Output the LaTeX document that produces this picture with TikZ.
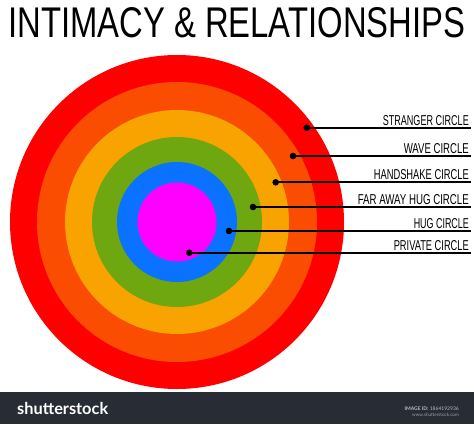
\documentclass[tikz,border=0pt]{standalone}
\usepackage{fontspec}
\usepackage{graphicx}
\setmainfont{Liberation Sans}
\newfontfamily\titlefont[FakeStretch=0.78]{Liberation Sans}
\newfontfamily\lblfont[FakeStretch=0.65]{Liberation Sans}
\newfontfamily\barfont{Lato}
\definecolor{cred}{HTML}{FE0000}
\definecolor{corange}{HTML}{FA4D02}
\definecolor{camber}{HTML}{F8A300}
\definecolor{cgreen}{HTML}{6EA70F}
\definecolor{cblue}{HTML}{0A72FE}
\definecolor{cmagenta}{HTML}{FF00FF}
\definecolor{cbar}{HTML}{282C34}
\definecolor{cbartext}{HTML}{B8BCC4}
\tikzset{
  ring/.style={fill=#1},
  dot/.style={circle,fill=black,inner sep=0pt,minimum size=6.6pt},
  leader/.style={draw=black,line width=1.8pt},
  lbl/.style={inner sep=0pt,anchor=base east},
}
\newcommand{\lbltext}[2]{\resizebox{#1pt}{10pt}{\lblfont #2}}
\begin{document}
\begin{tikzpicture}[x=1pt,y=-1pt]
\useasboundingbox (0,0) rectangle (474,424);
\fill[white] (0,0) rectangle (474,424);
% title
\node[inner sep=0pt,anchor=base west] (title) at (8,37)
  {\resizebox{457pt}{30pt}{\titlefont INTIMACY \& RELATIONSHIPS}};
% concentric circles
\coordinate (c) at (177,222);
\fill[ring=cred] (c) circle[radius=167pt];
\fill[ring=corange] (c) circle[radius=140pt];
\fill[ring=camber] (c) circle[radius=112pt];
\fill[ring=cgreen] (c) circle[radius=85pt];
\fill[ring=cblue] (c) circle[radius=60pt];
\fill[ring=cmagenta] (c) circle[radius=39.5pt];
% dots
\node[dot] (d1) at (306.7,127.7) {};
\node[dot] (d2) at (293,156) {};
\node[dot] (d3) at (275.7,182.3) {};
\node[dot] (d4) at (253,207) {};
\node[dot] (d5) at (229,231) {};
\node[dot] (d6) at (189.3,252.7) {};
% line ends
\coordinate (e1) at (471,127.7);
\coordinate (e2) at (471,156);
\coordinate (e3) at (471,182.3);
\coordinate (e4) at (471,207);
\coordinate (e5) at (471,231);
\coordinate (e6) at (471,252.7);
\draw[leader] (d1.center) -- (e1);
\draw[leader] (d2.center) -- (e2);
\draw[leader] (d3.center) -- (e3);
\draw[leader] (d4.center) -- (e4);
\draw[leader] (d5.center) -- (e5);
\draw[leader] (d6.center) -- (e6);
% labels
\node[lbl] (l1) at (469,125) {\lbltext{86}{STRANGER CIRCLE}};
\node[lbl] (l2) at (469,153.3) {\lbltext{65}{WAVE CIRCLE}};
\node[lbl] (l3) at (469,179.5) {\lbltext{95}{HANDSHAKE CIRCLE}};
\node[lbl] (l4) at (469,204.3) {\lbltext{111}{FAR AWAY HUG CIRCLE}};
\node[lbl] (l5) at (469,228.3) {\lbltext{55}{HUG CIRCLE}};
\node[lbl] (l6) at (469,250) {\lbltext{75}{PRIVATE CIRCLE}};
% bottom bar
\fill[cbar] (0,392) rectangle (474,424);
\node[inner sep=0pt,anchor=base west,text=white] (brand) at (17,414)
  {\resizebox{91pt}{!}{\barfont\bfseries shutterstock}};
\node[inner sep=0pt,anchor=base east,text=cbartext,font=\barfont\fontsize{5}{5}\selectfont] (imgid) at (459,410)
  {\textbf{IMAGE ID:} 1864192936};
\node[inner sep=0pt,anchor=base east,text=cbartext!80!cbar,font=\barfont\fontsize{4.6}{5}\selectfont] (www) at (459,416.5)
  {www.shutterstock.com};
\end{tikzpicture}
\end{document}
